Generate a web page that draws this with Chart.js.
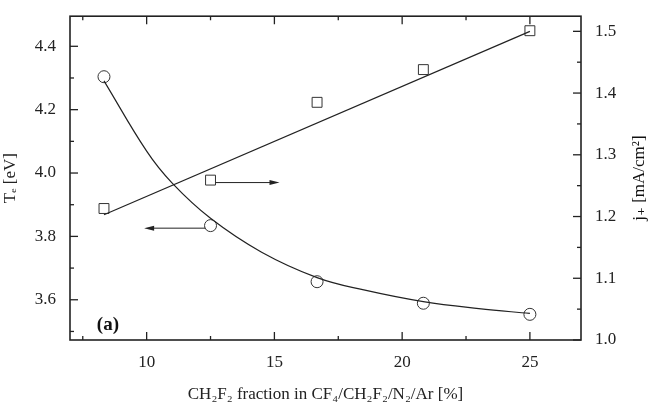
<!DOCTYPE html>
<html><head><meta charset="utf-8">
<script src="https://cdn.jsdelivr.net/npm/chart.js@4/dist/chart.umd.min.js"></script>
<style>html,body{margin:0;padding:0;background:#fff}#w{width:655px;height:409px}</style>
</head><body><div id="w"><canvas id="c"></canvas></div>
<script>
const fractions = [8.33, 12.5, 16.67, 20.83, 25];
const teValues = [4.304, 3.834, 3.657, 3.589, 3.554];
const jValues = [1.213, 1.259, 1.385, 1.438, 1.501];
const teFitX = [8.33, 10, 11, 12.5, 14.5, 16.67, 18.5, 20.83, 23, 25];
const teFitY = [4.291, 4.069, 3.968, 3.857, 3.750, 3.670, 3.631, 3.594, 3.572, 3.557];
const jFitX = [8.33, 25];
const jFitY = [1.203, 1.500];
const xTicks = [10, 15, 20, 25];
const arrowJ = {x0: 12.7, x1: 15.2, y: 1.255};
const arrowTe = {x0: 12.3, x1: 9.9, y: 3.826};
const rightTitle = 'j₊ [mA/cm²]';
const FONT = "'Liberation Serif', 'DejaVu Serif', serif";
const pts = (xs, ys) => xs.map((x, i) => ({x, y: ys[i]}));

const deco = {
  id: 'deco',
  afterDraw(ch) {
    const c = ch.ctx, a = ch.chartArea, x = ch.scales.x, yl = ch.scales.yL, yr = ch.scales.yR;
    c.save();
    c.strokeStyle = '#222'; c.lineWidth = 1.6;
    c.strokeRect(a.left, a.top, a.right - a.left, a.bottom - a.top);
    c.lineWidth = 1.3;
    for (let v = 7.5; v <= 27; v += 2.5) {
      const px = x.getPixelForValue(v), L = (v % 5 === 0) ? 8 : 4;
      c.beginPath(); c.moveTo(px, a.bottom); c.lineTo(px, a.bottom - L);
      c.moveTo(px, a.top); c.lineTo(px, a.top + L); c.stroke();
    }
    for (let v = 3.5; v <= 4.49; v += 0.1) {
      const py = yl.getPixelForValue(v), L = (Math.round(v * 10) % 2 === 0) ? 8 : 4;
      c.beginPath(); c.moveTo(a.left, py); c.lineTo(a.left + L, py); c.stroke();
    }
    for (let v = 1.0; v <= 1.52; v += 0.05) {
      const py = yr.getPixelForValue(v), L = (Math.round(v * 100) % 10 === 0) ? 8 : 4;
      c.beginPath(); c.moveTo(a.right, py); c.lineTo(a.right - L, py); c.stroke();
    }
    const arrow = (x0, x1, py) => {
      const p0 = x.getPixelForValue(x0), p1 = x.getPixelForValue(x1), d = Math.sign(p1 - p0);
      c.lineWidth = 1; c.beginPath(); c.moveTo(p0, py); c.lineTo(p1 - d * 8, py); c.stroke();
      c.fillStyle = '#222'; c.beginPath(); c.moveTo(p1, py); c.lineTo(p1 - d * 10, py - 2.5); c.lineTo(p1 - d * 10, py + 2.5); c.closePath(); c.fill();
    };
    arrow(arrowJ.x0, arrowJ.x1, yr.getPixelForValue(arrowJ.y));
    arrow(arrowTe.x0, arrowTe.x1, yl.getPixelForValue(arrowTe.y));
    c.fillStyle = '#111'; c.font = 'bold 19px ' + FONT; c.textBaseline = 'middle';
    c.fillText('(a)', x.getPixelForValue(8.05), yl.getPixelForValue(3.52));
    c.font = '17px ' + FONT; c.textAlign = 'center';
    c.translate(640, (a.top + a.bottom) / 2); c.rotate(-Math.PI / 2);
    c.fillText(rightTitle, 0, 0);
    c.restore();
  }
};

new Chart(document.getElementById('c'), {
  type: 'scatter',
  data: { datasets: [
    {data: pts(teFitX, teFitY), yAxisID: 'yL', showLine: true, pointRadius: 0, borderColor: '#222', borderWidth: 1.2, tension: 0.4},
    {data: pts(jFitX, jFitY), yAxisID: 'yR', showLine: true, pointRadius: 0, borderColor: '#222', borderWidth: 1.2},
    {data: pts(fractions, teValues), yAxisID: 'yL', pointStyle: 'circle', pointRadius: 6, borderColor: '#333', backgroundColor: 'rgba(0,0,0,0)', borderWidth: 1},
    {data: pts(fractions, jValues), yAxisID: 'yR', pointStyle: 'rect', pointRadius: 7, borderColor: '#333', backgroundColor: 'rgba(0,0,0,0)', borderWidth: 1}
  ]},
  options: {
    responsive: true, maintainAspectRatio: false, animation: false,
    layout: {padding: {top: -9}},
    plugins: {legend: {display: false}, tooltip: {enabled: false}},
    scales: {
      x: {type: 'linear', min: 7, max: 27,
        afterBuildTicks: s => { s.ticks = xTicks.map(v => ({value: v})); },
        afterFit: s => { s.height = 69; },
        grid: {display: false}, border: {display: false},
        ticks: {color: '#222', font: {family: FONT, size: 17}, padding: 4},
        title: {display: true, text: 'CH₂F₂ fraction in CF₄/CH₂F₂/N₂/Ar [%]', color: '#222', font: {family: FONT, size: 17}, padding: {top: 8}}},
      yL: {position: 'left', min: 3.473, max: 4.495,
        afterBuildTicks: s => { s.ticks = [3.6, 3.8, 4.0, 4.2, 4.4].map(v => ({value: v})); },
        afterFit: s => { s.width = 70; },
        grid: {display: false}, border: {display: false},
        ticks: {color: '#222', font: {family: FONT, size: 17}, padding: 6, callback: v => v.toFixed(1)},
        title: {display: true, text: 'Tₑ [eV]', color: '#222', font: {family: FONT, size: 17}, padding: 0}},
      yR: {position: 'right', min: 1.0, max: 1.5245,
        afterBuildTicks: s => { s.ticks = [1.0, 1.1, 1.2, 1.3, 1.4, 1.5].map(v => ({value: v})); },
        afterFit: s => { s.width = 74; },
        grid: {display: false}, border: {display: false},
        ticks: {color: '#222', font: {family: FONT, size: 17}, padding: 6, callback: v => v.toFixed(1)},
        title: {display: false}}
    }
  },
  plugins: [deco]
});
</script></body></html>
